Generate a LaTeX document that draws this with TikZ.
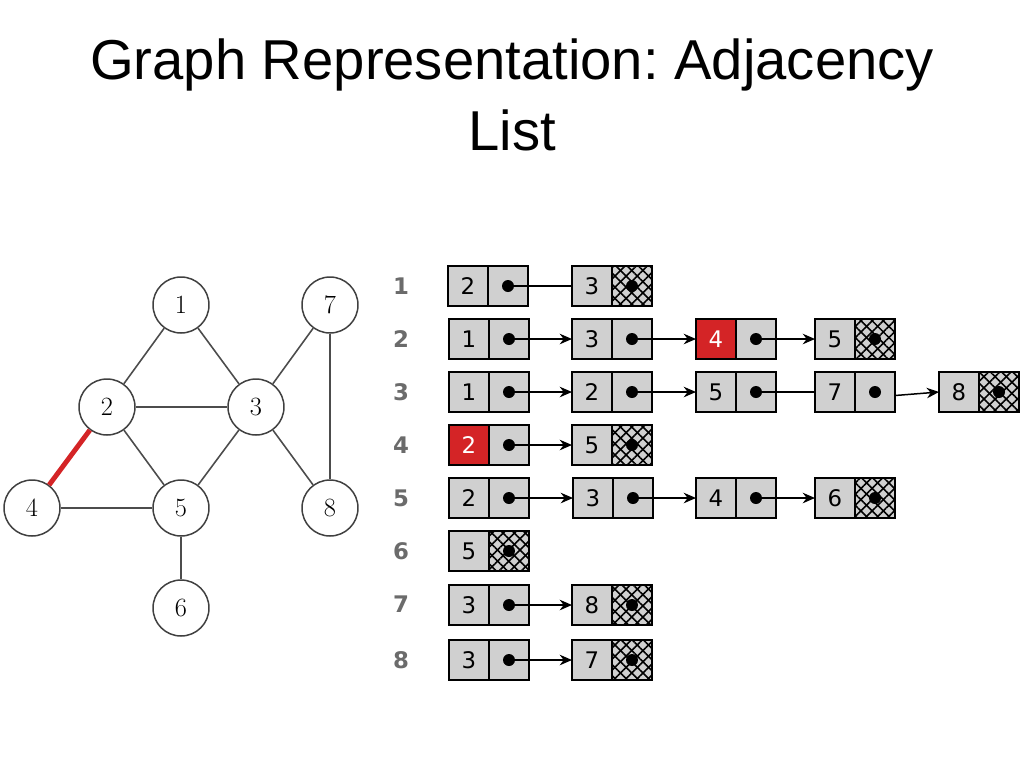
\documentclass[tikz,border=0pt]{standalone}
\usepackage{fontspec}
\usepackage{tikz}
\usetikzlibrary{arrows.meta,positioning,patterns.meta}
\newfontfamily\titlefont{Liberation Sans}
\newfontfamily\listfont{DejaVu Sans}
\definecolor{cellgray}{RGB}{208,208,208}
\definecolor{listred}{RGB}{212,36,38}
\frenchspacing

\tikzset{
  vertex/.style={circle, draw=black!75, line width=0.85pt, fill=white,
    minimum size=1.12cm, inner sep=0pt, font=\fontsize{15}{15}\selectfont},
  edge/.style={draw=black!70, line width=0.9pt},
  cell/.style={rectangle, draw=black, line width=0.85pt, fill=cellgray,
    minimum width=0.8cm, minimum height=0.8cm, inner sep=0pt, outer sep=0pt,
    font=\listfont\fontsize{13}{13}\selectfont},
  redcell/.style={cell, fill=listred, text=white},
  ptrcell/.style={cell, path picture={
      \fill[black] (path picture bounding box.center) circle (0.12cm);}},
  nilcell/.style={cell, path picture={
      \fill[black, pattern={Lines[angle=45,distance=4.5pt,line width=0.9pt]}]
        (path picture bounding box.south west) rectangle (path picture bounding box.north east);
      \fill[black, pattern={Lines[angle=-45,distance=4.5pt,line width=0.9pt]}]
        (path picture bounding box.south west) rectangle (path picture bounding box.north east);
      \fill[black] (path picture bounding box.center) circle (0.12cm);}},
  rowlabel/.style={font=\listfont\bfseries\fontsize{13}{13}\selectfont, text=black!58},
  link/.style={line width=0.85pt, -{Stealth[length=7pt,width=6pt]}},
  plainlink/.style={line width=0.85pt}
}

\begin{document}
\begin{tikzpicture}[x=0.02cm, y=-0.02cm]
  \useasboundingbox (0,0) rectangle (1024,768);

  % title
  \node[font=\titlefont\fontsize{32}{32}\selectfont] (title1) at (512,65) {Graph Representation: Adjacency};
  \node[font=\titlefont\fontsize{32}{32}\selectfont] (title2) at (512,130) {List};

  % graph
  \node[vertex] (v1) at (181,305) {1};
  \node[vertex] (v7) at (330,305) {7};
  \node[vertex] (v2) at (107,407) {2};
  \node[vertex] (v3) at (256,407) {3};
  \node[vertex] (v4) at (32,508) {4};
  \node[vertex] (v5) at (181,508) {5};
  \node[vertex] (v8) at (330,508) {8};
  \node[vertex] (v6) at (181,608) {6};
  \draw[edge] (v1) -- (v2);
  \draw[edge] (v1) -- (v3);
  \draw[edge] (v2) -- (v3);
  \draw[edge] (v2) -- (v5);
  \draw[edge] (v3) -- (v5);
  \draw[edge] (v3) -- (v7);
  \draw[edge] (v3) -- (v8);
  \draw[edge] (v7) -- (v8);
  \draw[edge] (v4) -- (v5);
  \draw[edge] (v5) -- (v6);
  \draw[line width=2.8pt, listred] (v2) -- (v4);

  % row labels
  \foreach \r/\y in {1/286,2/339,3/392,4/445,5/498,6/551,7/604,8/660} {
    \node[rowlabel] (r\r) at (401,\y) {\r};
  }

  % row 1
  \node[cell] (k11) at (468,286) {2};
  \node[ptrcell, right=0pt of k11] (p11) {};
  \node[cell] (k12) at (592,286) {3};
  \node[nilcell, right=0pt of k12] (p12) {};
  \draw[plainlink] (p11.center) -- (k12.west);

  % row 2
  \node[cell] (k21) at (469,339) {1};
  \node[ptrcell, right=0pt of k21] (p21) {};
  \node[cell] (k22) at (592,339) {3};
  \node[ptrcell, right=0pt of k22] (p22) {};
  \node[redcell] (k23) at (716,339) {4};
  \node[ptrcell, right=0pt of k23] (p23) {};
  \node[cell] (k24) at (835,339) {5};
  \node[nilcell, right=0pt of k24] (p24) {};
  \draw[link] (p21.center) -- (k22.west);
  \draw[link] (p22.center) -- (k23.west);
  \draw[link] (p23.center) -- (k24.west);

  % row 3
  \node[cell] (k31) at (469,392) {1};
  \node[ptrcell, right=0pt of k31] (p31) {};
  \node[cell] (k32) at (592,392) {2};
  \node[ptrcell, right=0pt of k32] (p32) {};
  \node[cell] (k33) at (716,392) {5};
  \node[ptrcell, right=0pt of k33] (p33) {};
  \node[cell] (k34) at (835,392) {7};
  \node[ptrcell, right=0pt of k34] (p34) {};
  \node[cell] (k35) at (959,392) {8};
  \node[nilcell, right=0pt of k35] (p35) {};
  \draw[link] (p31.center) -- (k32.west);
  \draw[link] (p32.center) -- (k33.west);
  \draw[plainlink] (p33.center) -- (k34.west);
  \draw[link] ([yshift=-2pt]p34.east) -- (k35.west);

  % row 4
  \node[redcell] (k41) at (469,445) {2};
  \node[ptrcell, right=0pt of k41] (p41) {};
  \node[cell] (k42) at (592,445) {5};
  \node[nilcell, right=0pt of k42] (p42) {};
  \draw[link] (p41.center) -- (k42.west);

  % row 5
  \node[cell] (k51) at (469,498) {2};
  \node[ptrcell, right=0pt of k51] (p51) {};
  \node[cell] (k52) at (593,498) {3};
  \node[ptrcell, right=0pt of k52] (p52) {};
  \node[cell] (k53) at (716,498) {4};
  \node[ptrcell, right=0pt of k53] (p53) {};
  \node[cell] (k54) at (835,498) {6};
  \node[nilcell, right=0pt of k54] (p54) {};
  \draw[link] (p51.center) -- (k52.west);
  \draw[link] (p52.center) -- (k53.west);
  \draw[link] (p53.center) -- (k54.west);

  % row 6
  \node[cell] (k61) at (469,551) {5};
  \node[nilcell, right=0pt of k61] (p61) {};

  % row 7
  \node[cell] (k71) at (469,605) {3};
  \node[ptrcell, right=0pt of k71] (p71) {};
  \node[cell] (k72) at (592,605) {8};
  \node[nilcell, right=0pt of k72] (p72) {};
  \draw[link] (p71.center) -- (k72.west);

  % row 8
  \node[cell] (k81) at (469,660) {3};
  \node[ptrcell, right=0pt of k81] (p81) {};
  \node[cell] (k82) at (592,660) {7};
  \node[nilcell, right=0pt of k82] (p82) {};
  \draw[link] (p81.center) -- (k82.west);
\end{tikzpicture}
\end{document}
